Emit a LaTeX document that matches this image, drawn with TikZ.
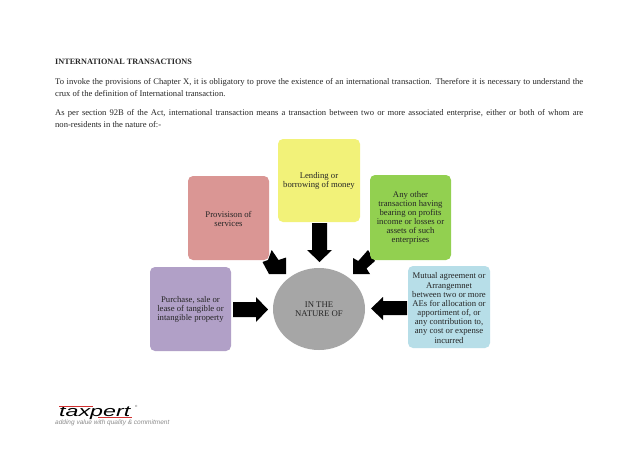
\documentclass[tikz,border=0pt]{standalone}
\usepackage{fontspec}
\setmainfont{Liberation Serif}
\setsansfont{Liberation Sans}
\usetikzlibrary{shapes.geometric}
\definecolor{cpurple}{HTML}{B1A0C7}
\definecolor{cpink}{HTML}{DA9694}
\definecolor{cyellow}{HTML}{F2F279}
\definecolor{cgreen}{HTML}{92D050}
\definecolor{cblue}{HTML}{B7DEE8}
\definecolor{cgrey}{HTML}{A6A6A6}
\definecolor{ink}{HTML}{262626}
\definecolor{logored}{HTML}{D03030}
\tikzset{
  x=1pt,y=-1pt,
  card/.style={minimum width=#1,align=center,text=ink,font=\fontsize{8.7}{9.15}\selectfont,inner sep=0pt},
  para/.style={anchor=base west,inner sep=0pt,text=ink,text width=528pt,align=justify,font=\fontsize{8.6}{12.1}\selectfont},
  blockarrow/.style={fill=black,draw=none},
  logoline/.style={draw=logored,line width=.8pt}
}
\begin{document}
\begin{tikzpicture}
\useasboundingbox (0,0) rectangle (638,451);
\fill[white] (0,0) rectangle (638,451);
\node[anchor=base west,inner sep=0pt,text=ink,font=\bfseries\fontsize{8.2}{10}\selectfont] (head) at (55,64) {INTERNATIONAL TRANSACTIONS};
\node[para] (p1) at (55,84) {To invoke the provisions of Chapter X, it is obligatory to prove the existence of an international transaction. Therefore it is necessary to understand the crux of the definition of International transaction.};
\node[para] (p2) at (55,115) {As per section 92B of the Act, international transaction means a transaction between two or more associated enterprise, either or both of whom are\linebreak non-residents in the nature of:-};
\fill[blockarrow] (271.7,250)--(278.5,260)--(286,257.5)--(286,274)--(269,274)--(262.5,262)--(268,260)--cycle;
\fill[blockarrow] (368,250)--(375,261)--(366.5,268.5)--(370,274)--(353,274)--(353,258)--(358.3,261)--cycle;
\fill[cpurple,rounded corners=5pt] (150,267) rectangle (231,351);
\fill[cpink,rounded corners=5pt] (188,176) rectangle (269,260);
\fill[cyellow,rounded corners=5pt] (278,139) rectangle (360,222);
\fill[cgreen,rounded corners=5pt] (370,175) rectangle (451,260);
\fill[cblue,rounded corners=5pt] (408,266) rectangle (490,348);
\fill[cgrey] (319,309) ellipse [x radius=46,y radius=41];
\node[card=81pt] (purple) at (190.5,309.5) {Purchase, sale or\\lease of tangible or\\intangible property};
\node[card=81pt] (pink) at (228.5,218.8) {Provisison of\\services};
\node[card=82pt] (yellow) at (319,181) {Lending or\\borrowing of money};
\node[card=81pt] (green) at (410.5,218) {Any other\\transaction having\\bearing on profits\\income or losses or\\assets of such\\enterprises};
\node[card=82pt] (blue) at (449,308) {Mutual agreement or\\Arrangemnet\\between two or more\\AEs for allocation or\\apportiment of, or\\any contribution to,\\any cost or expense\\incurred};
\node[card=80pt,font=\fontsize{8.7}{9.3}\selectfont] (centre) at (319,309.5) {IN THE\\NATURE OF};
\fill[blockarrow] (233,302)--(256,302)--(256,297)--(268,309.5)--(256,322)--(256,317)--(233,317)--cycle;
\fill[blockarrow] (312,223)--(327,223)--(327,250)--(332,250)--(319.5,262)--(307,250)--(312,250)--cycle;
\fill[blockarrow] (407,301)--(383,301)--(383,297)--(371,308.5)--(383,320)--(383,315)--(407,315)--cycle;
% logo
\node[anchor=base west,inner sep=0pt,font=\sffamily\itshape\fontsize{15}{15}\selectfont,text=black] (logo) at (59,416) {\scalebox{1.55}[1]{taxpert}};
\draw[logoline] (59,406.5)--(93,406.5);
\draw[logoline] (98,417.5)--(132,417.5);
\node[anchor=base west,inner sep=0pt,font=\sffamily\fontsize{3}{3}\selectfont,text=black!70] (mark) at (135,407) {®};
\node[anchor=base west,inner sep=0pt,font=\sffamily\itshape\fontsize{6.5}{7}\selectfont,text=black!45] (tag) at (55,424.6) {adding value with quality \& commitment};
\end{tikzpicture}
\end{document}
